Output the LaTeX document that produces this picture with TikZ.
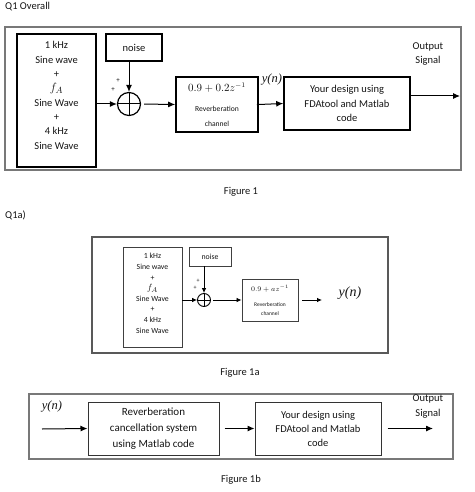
\documentclass[tikz,border=0pt]{standalone}
\usepackage{fontspec}
\setmainfont{Carlito}
\newfontfamily\timesfont{Liberation Serif}
\usepackage{tikz}
\usetikzlibrary{positioning,arrows.meta}
\definecolor{framegray}{RGB}{120,120,120}
\definecolor{inkgray}{RGB}{20,20,20}
\newcommand{\fsz}[2]{\fontsize{#1}{#2}\selectfont}

\begin{document}
\begin{tikzpicture}[x=1pt, y=-1pt,
    every node/.style={align=center, text=inkgray, inner sep=0pt},
    frameBox/.style={draw=framegray, line width=1.2pt},
    bigBlock/.style={rectangle, draw=black, line width=1.6pt, font=\fsz{10.5}{14.3}},
    smallBlock/.style={rectangle, draw=black!75, line width=0.9pt, font=\fsz{7.8}{10.6}},
    lowBlock/.style={rectangle, draw=black!80, line width=1pt},
    sumNode/.style={circle, draw=black, line width=1.2pt, path picture={
        \draw[line width=1pt] (path picture bounding box.north) -- (path picture bounding box.south)
              (path picture bounding box.west) -- (path picture bounding box.east);}},
    sigLine/.style={draw=black, line width=1pt, -{Latex[length=7pt,width=6pt]}},
    sigLineSmall/.style={draw=black, line width=0.8pt, -{Latex[length=5pt,width=4.5pt]}},
    ynLabel/.style={font=\timesfont\itshape},
    plusSign/.style={font=\fsz{7}{7}},
    caption/.style={font=\fsz{10.5}{13}}
]
    \useasboundingbox (0,0) rectangle (474,492);

    % Q1 overall
    \node [caption, anchor=west] (q1) at (5,7) {Q1 Overall};
    \draw [frameBox] (5,27) rectangle (461,170);

    \node [bigBlock, minimum width=79pt, minimum height=133pt] (src) at (56.5,100.5)
        {1 kHz\\Sine wave\\+\\\fsz{12.5}{14.3}$f_A$\\Sine Wave\\+\\4 kHz\\Sine Wave\\[-4pt]};
    \node [bigBlock, minimum width=56pt, minimum height=27pt] (noise) at (134,47.5) {noise};
    \node [sumNode, minimum size=23pt] (sum) at (129,104) {};
    \node [plusSign] (plusA) at (118,81) {+};
    \node [plusSign] (plusB) at (113,90) {+};
    \node [bigBlock, minimum width=82pt, minimum height=55pt] (chan) at (217,104.5)
        {$0.9 + 0.2z^{-1}$\\[6pt]\fsz{7.6}{12}Reverberation\\\fsz{7.6}{12}channel};
    \node [ynLabel, font=\timesfont\itshape\fsz{12.5}{14}] (yn) at (272,80) {y(n)};
    \node [bigBlock, minimum width=126pt, minimum height=53pt] (design) at (347,103.5)
        {Your design using\\FDAtool and Matlab\\code};
    \node [caption, font=\fsz{10.5}{14.3}] (out) at (428,54) {Output\\Signal};
    \coordinate (outEnd) at (460,96);
    \node [caption] (fig1) at (241,192) {Figure 1};

    \path [sigLine] (src.east |- sum.west) -- (sum.west);
    \path [sigLine] (noise.south -| sum.north) -- (sum.north);
    \path [sigLine, shorten <=3pt] (sum.east) -- (chan.west);
    \path [sigLine, shorten <=-2pt] (chan.east) -- (design.west);
    \path [sigLine] (design.east |- outEnd) -- (outEnd);

    % Q1a
    \node [caption, anchor=west] (q1a) at (5,215) {Q1a)};
    \draw [frameBox, draw=black!65] (92,237) rectangle (388,353);

    \node [smallBlock, minimum width=59pt, minimum height=100pt] (srcA) at (152.5,297)
        {1 kHz\\Sine wave\\+\\\fsz{9.5}{10.6}$f_A$\\Sine Wave\\+\\4 kHz\\Sine Wave\\[-3pt]};
    \node [smallBlock, minimum width=42pt, minimum height=19pt] (noiseA) at (210,256.5) {noise};
    \node [sumNode, line width=0.9pt, minimum size=13pt] (sumA) at (204,300) {};
    \node [plusSign, font=\fsz{6}{6}] (plusC) at (198,281) {+};
    \node [plusSign, font=\fsz{6}{6}] (plusD) at (195,288) {+};
    \node [smallBlock, minimum width=56pt, minimum height=42pt, font=\fsz{7}{9}] (chanA) at (270,300)
        {$0.9 + az^{-1}$\\[6pt]\fsz{5.5}{8}Reverberation\\\fsz{5.5}{8}channel};
    \coordinate (ynEnd) at (322,300);
    \node [ynLabel, font=\timesfont\itshape\fsz{14}{16}] (ynA) at (350,293) {y(n)};
    \node [caption] (fig1a) at (240,373) {Figure 1a};

    \path [sigLineSmall] (srcA.east |- sumA.west) -- (sumA.west);
    \path [sigLineSmall] (noiseA.south -| sumA.north) -- (sumA.north);
    \path [sigLineSmall, shorten <=2pt] (sumA.east) -- (chanA.west);
    \path [sigLineSmall, shorten <=4pt] (chanA.east) -- (ynEnd);

    % Q1b
    \draw [frameBox] (29,394) rectangle (453,459);
    \node [ynLabel, font=\timesfont\itshape\fsz{12.5}{14}] (ynB) at (52,407) {y(n)};
    \coordinate (inB) at (42,429);
    \node [lowBlock, minimum width=131pt, minimum height=53pt, font=\fsz{11}{16}] (cancel) at (153.5,428.5)
        {Reverberation\\cancellation system\\using Matlab code};
    \node [lowBlock, minimum width=126pt, minimum height=53pt, font=\fsz{10.5}{14}] (designB) at (318,428.5)
        {Your design using\\FDAtool and Matlab\\code};
    \node [caption, font=\fsz{10.5}{15}] (outB) at (428,406) {Output\\Signal};
    \coordinate (outBEnd) at (433,428.5);
    \node [caption] (fig1b) at (241,480) {Figure 1b};

    \path [sigLine] (inB) -- (cancel.west);
    \path [sigLine, shorten <=5pt] (cancel.east) -- (designB.west);
    \path [sigLine, shorten <=6pt] (designB.east) -- (outBEnd);
\end{tikzpicture}
\end{document}
